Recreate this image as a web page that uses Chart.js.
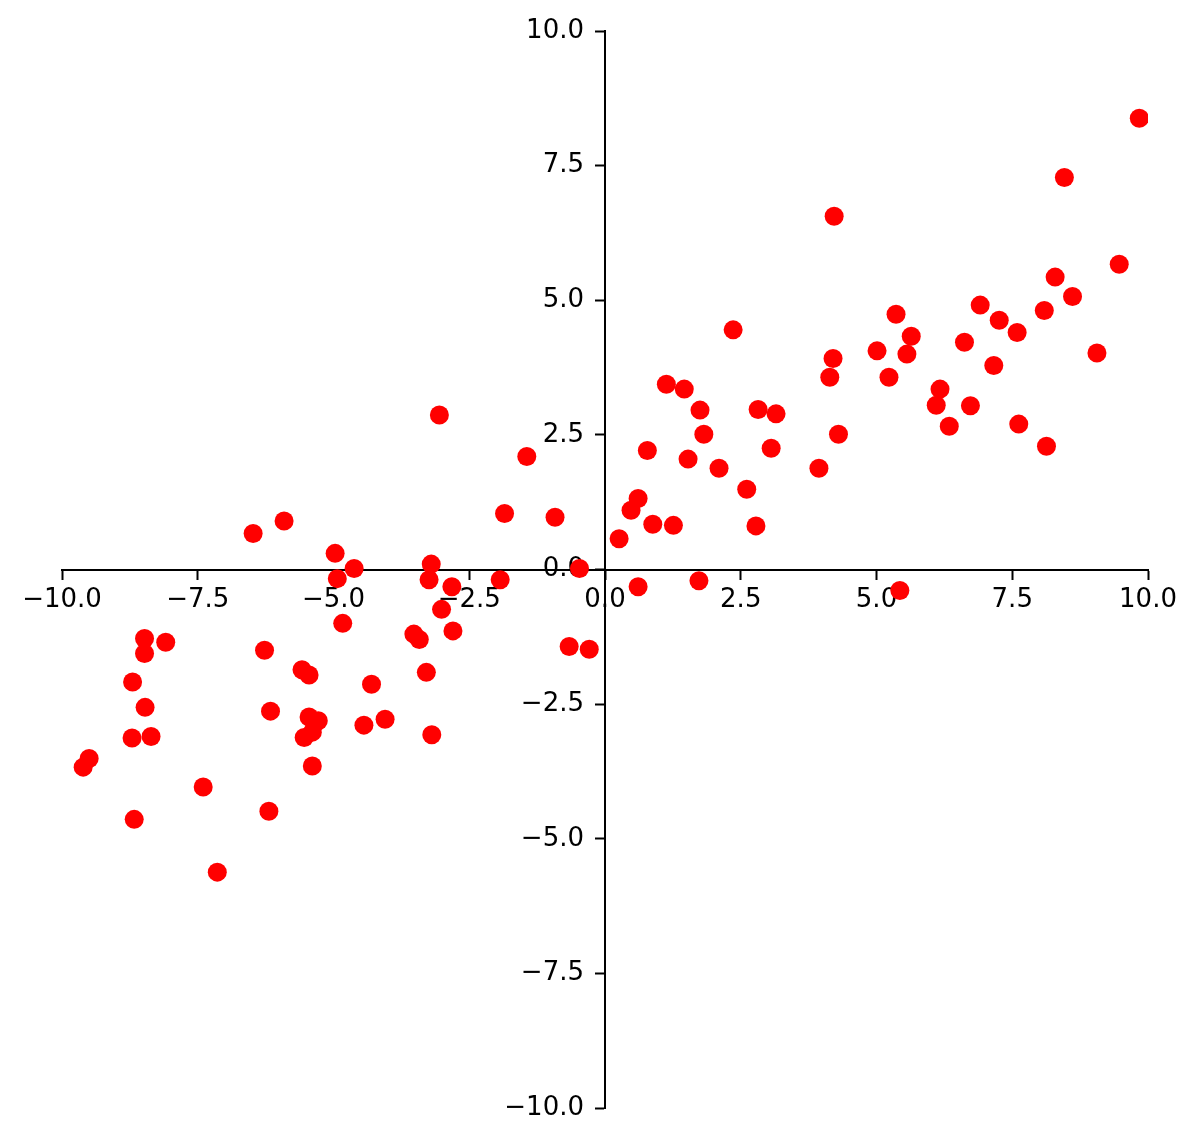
<!DOCTYPE html>
<html>
<head>
<meta charset="utf-8">
<script src="https://cdn.jsdelivr.net/npm/chart.js@4.4.1/dist/chart.umd.min.js"></script>
<style>
  html, body { margin: 0; padding: 0; background: #fff; }
  #wrap { width: 1198px; height: 1146px; }
</style>
</head>
<body>
<div id="wrap"><canvas id="scatter" width="1198" height="1146"></canvas></div>
<script>
// values
var xValues = [
  -9.61, -9.50, -8.67, -8.70, -8.71, -8.48, -8.48, -8.47, -8.36, -8.09,
  -7.40, -7.14, -6.48, -6.27, -6.19, -6.16, -5.91, -5.58, -5.45, -5.54,
  -5.39, -5.45, -5.28, -5.39, -4.97, -4.93, -4.83, -4.62, -4.44, -4.30,
  -4.05, -3.52, -3.42, -3.29, -3.24, -3.20, -3.19, -3.05, -3.01, -2.82,
  -2.80, -1.93, -1.85, -1.44, -0.92, -0.66, -0.47, -0.29,
  0.26, 0.48, 0.61, 0.61, 0.78, 0.88, 1.13, 1.26, 1.46, 1.53,
  1.73, 1.75, 1.82, 2.10, 2.36, 2.61, 2.78, 2.82, 3.06, 3.15,
  3.94, 4.14, 4.20, 4.22, 4.30, 5.01, 5.23, 5.36, 5.43, 5.56,
  5.64, 6.10, 6.17, 6.34, 6.62, 6.73, 6.91, 7.16, 7.26, 7.59,
  7.62, 8.09, 8.13, 8.29, 8.46, 8.61, 9.06, 9.47, 9.84
];
var yValues = [
  -3.67, -3.51, -4.64, -2.09, -3.13, -1.28, -1.56, -2.56, -3.10, -1.35,
  -4.04, -5.62, 0.67, -1.50, -4.49, -2.63, 0.90, -1.86, -1.96, -3.12,
  -3.02, -2.74, -2.81, -3.65, 0.30, -0.17, -1.00, 0.02, -2.89, -2.13,
  -2.78, -1.20, -1.30, -1.91, -0.19, 0.10, -3.07, 2.87, -0.74, -0.32,
  -1.14, -0.19, 1.04, 2.10, 0.97, -1.43, 0.02, -1.48,
  0.57, 1.10, 1.32, -0.32, 2.21, 0.84, 3.44, 0.82, 3.35, 2.05,
  -0.21, 2.96, 2.51, 1.88, 4.45, 1.49, 0.81, 2.97, 2.25, 2.89,
  1.88, 3.57, 3.92, 6.56, 2.51, 4.06, 3.57, 4.74, -0.39, 4.00,
  4.33, 3.05, 3.35, 2.66, 4.22, 3.04, 4.91, 3.79, 4.63, 4.40,
  2.70, 4.81, 2.29, 5.43, 7.28, 5.07, 4.02, 5.67, 8.38
];
var axisMin = -10, axisMax = 10, tickStep = 2.5;

(function () {
  "use strict";
  var pts = xValues.map(function (x, i) { return { x: x, y: yValues[i] }; });

  // matplotlib style labels: one decimal and a real minus sign
  var fmt = function (v) {
    return (v < 0 ? "\u2212" : "") + Math.abs(v).toFixed(1);
  };

  // both ranges are symmetric, so "center" puts each spine at zero
  var axis = function (pad) {
    return {
      type: "linear",
      position: "center",
      min: axisMin,
      max: axisMax,
      grid: { drawOnChartArea: false, color: "#000", tickColor: "#000", tickLength: 9, tickWidth: 2 },
      border: { display: true, color: "#000", width: 2 },
      ticks: {
        stepSize: tickStep,
        autoSkip: false,
        maxRotation: 0,
        padding: pad,
        color: "#000",
        font: { family: "'DejaVu Sans'", size: 26 },
        callback: fmt
      }
    };
  };

  new Chart(document.getElementById("scatter").getContext("2d"), {
    type: "scatter",
    data: {
      datasets: [{
        data: pts,
        backgroundColor: "#ff0000",
        borderWidth: 0,
        pointRadius: 9.5,
        pointHoverRadius: 9.5
      }]
    },
    options: {
      responsive: false,
      animation: false,
      devicePixelRatio: 1,
      layout: { padding: { left: 62, right: 50, top: 31, bottom: 38 } },
      plugins: { legend: { display: false }, tooltip: { enabled: false } },
      scales: {
        x: axis(6),
        y: axis(12)
      }
    }
  });
})();
</script>
</body>
</html>
